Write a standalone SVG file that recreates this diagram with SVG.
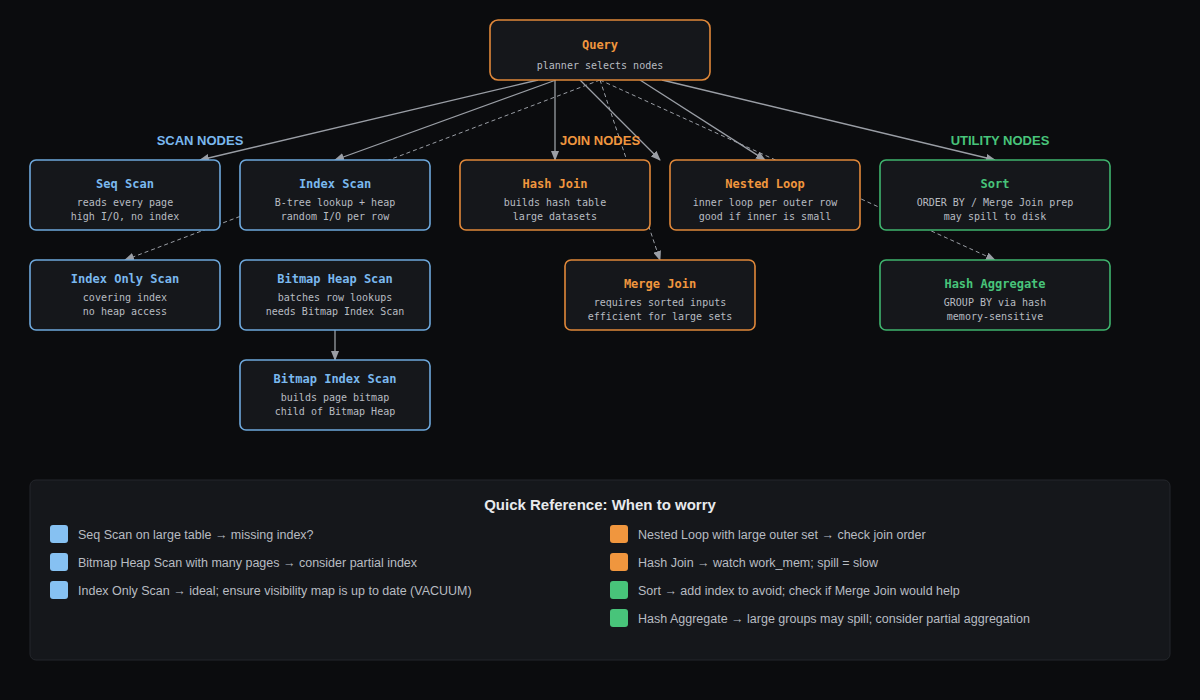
<svg xmlns="http://www.w3.org/2000/svg" width="1200" height="700" viewBox="0 0 1200 700">
<style>
.box{fill:#15171b;stroke-width:1.6}
.b{stroke:#6ea8dc}.o{stroke:#e0883a}.g{stroke:#3fb46e}
.t{font-family:"DejaVu Sans Mono",monospace;font-size:12px;font-weight:bold;text-anchor:middle}
.s{font-family:"DejaVu Sans Mono",monospace;font-size:10px;fill:#b8bcc2;text-anchor:middle}
.tb{fill:#7ab8ee}.to{fill:#f0963e}.tg{fill:#48c47a}
.sec{font-family:"Liberation Sans",Arial,sans-serif;font-size:13px;font-weight:bold;text-anchor:middle}
.c{stroke:#9a9ea5;stroke-width:1.3;fill:none}
.d{stroke-dasharray:4 3;stroke-width:1}
.lg{font-family:"Liberation Sans",Arial,sans-serif;font-size:12.5px;fill:#b8bcc2}
</style>
<defs><marker id="a" markerWidth="10" markerHeight="8" refX="9" refY="4" orient="auto" markerUnits="userSpaceOnUse"><path d="M0,0 L10,4 L0,8 z" fill="#9a9ea5"/></marker></defs>
<rect width="1200" height="700" fill="#0b0c0e"/>
<g id="connectors" marker-end="url(#a)">
<line class="c" x1="538" y1="80" x2="200" y2="160"/>
<line class="c" x1="556" y1="80" x2="335" y2="160"/>
<line class="c d" x1="600" y1="80" x2="125" y2="260"/>
<line class="c" x1="555" y1="80" x2="555" y2="160"/>
<line class="c d" x1="600" y1="80" x2="660" y2="260"/>
<line class="c" x1="580" y1="80" x2="660" y2="160"/>
<line class="c" x1="640" y1="80" x2="765" y2="160"/>
<line class="c d" x1="600" y1="80" x2="995" y2="260"/>
<line class="c" x1="662" y1="80" x2="995" y2="160"/>
<line class="c" x1="335" y1="330" x2="335" y2="360"/>
</g>
<text class="sec tb" x="200" y="145">SCAN NODES</text>
<text class="sec to" x="600" y="145">JOIN NODES</text>
<text class="sec tg" x="1000" y="145">UTILITY NODES</text>
<g id="query"><rect class="box o" x="490" y="20" width="220" height="60" rx="8" stroke-width="2"/><text class="t to" x="600" y="49" font-size="14">Query</text><text class="s" x="600" y="69" font-size="11">planner selects nodes</text></g>
<g id="seq"><rect class="box b" x="30" y="160" width="190" height="70" rx="6"/><text class="t tb" x="125" y="188">Seq Scan</text><text class="s" x="125" y="206">reads every page</text><text class="s" x="125" y="220">high I/O, no index</text></g>
<g id="idx"><rect class="box b" x="240" y="160" width="190" height="70" rx="6"/><text class="t tb" x="335" y="188">Index Scan</text><text class="s" x="335" y="206">B-tree lookup + heap</text><text class="s" x="335" y="220">random I/O per row</text></g>
<g id="hashjoin"><rect class="box o" x="460" y="160" width="190" height="70" rx="6"/><text class="t to" x="555" y="188">Hash Join</text><text class="s" x="555" y="206">builds hash table</text><text class="s" x="555" y="220">large datasets</text></g>
<g id="nested"><rect class="box o" x="670" y="160" width="190" height="70" rx="6"/><text class="t to" x="765" y="188">Nested Loop</text><text class="s" x="765" y="206">inner loop per outer row</text><text class="s" x="765" y="220">good if inner is small</text></g>
<g id="sort"><rect class="box g" x="880" y="160" width="230" height="70" rx="6"/><text class="t tg" x="995" y="188">Sort</text><text class="s" x="995" y="206">ORDER BY / Merge Join prep</text><text class="s" x="995" y="220">may spill to disk</text></g>
<g id="idxonly"><rect class="box b" x="30" y="260" width="190" height="70" rx="6"/><text class="t tb" x="125" y="283" font-size="11">Index Only Scan</text><text class="s" x="125" y="301">covering index</text><text class="s" x="125" y="315">no heap access</text></g>
<g id="bitmapheap"><rect class="box b" x="240" y="260" width="190" height="70" rx="6"/><text class="t tb" x="335" y="283" font-size="11">Bitmap Heap Scan</text><text class="s" x="335" y="301">batches row lookups</text><text class="s" x="335" y="315">needs Bitmap Index Scan</text></g>
<g id="merge"><rect class="box o" x="565" y="260" width="190" height="70" rx="6"/><text class="t to" x="660" y="288">Merge Join</text><text class="s" x="660" y="306">requires sorted inputs</text><text class="s" x="660" y="320">efficient for large sets</text></g>
<g id="hashagg"><rect class="box g" x="880" y="260" width="230" height="70" rx="6"/><text class="t tg" x="995" y="288">Hash Aggregate</text><text class="s" x="995" y="306">GROUP BY via hash</text><text class="s" x="995" y="320">memory-sensitive</text></g>
<g id="bitmapidx"><rect class="box b" x="240" y="360" width="190" height="70" rx="6"/><text class="t tb" x="335" y="383" font-size="11">Bitmap Index Scan</text><text class="s" x="335" y="401">builds page bitmap</text><text class="s" x="335" y="415">child of Bitmap Heap</text></g>
<g id="legend">
<rect x="30" y="480" width="1140" height="180" rx="6" fill="#15171b" stroke="#24272c"/>
<text x="600" y="510" font-family="Liberation Sans,Arial,sans-serif" font-size="15" font-weight="bold" fill="#e8eaed" text-anchor="middle">Quick Reference: When to worry</text>
<rect x="50" y="525" width="18" height="18" rx="3" fill="#86c1f2"/><text class="lg" x="78" y="539">Seq Scan on large table → missing index?</text>
<rect x="50" y="553" width="18" height="18" rx="3" fill="#86c1f2"/><text class="lg" x="78" y="567">Bitmap Heap Scan with many pages → consider partial index</text>
<rect x="50" y="581" width="18" height="18" rx="3" fill="#86c1f2"/><text class="lg" x="78" y="595">Index Only Scan → ideal; ensure visibility map is up to date (VACUUM)</text>
<rect x="610" y="525" width="18" height="18" rx="3" fill="#f0963e"/><text class="lg" x="638" y="539">Nested Loop with large outer set → check join order</text>
<rect x="610" y="553" width="18" height="18" rx="3" fill="#f0963e"/><text class="lg" x="638" y="567">Hash Join → watch work_mem; spill = slow</text>
<rect x="610" y="581" width="18" height="18" rx="3" fill="#48c47a"/><text class="lg" x="638" y="595">Sort → add index to avoid; check if Merge Join would help</text>
<rect x="610" y="609" width="18" height="18" rx="3" fill="#48c47a"/><text class="lg" x="638" y="623">Hash Aggregate → large groups may spill; consider partial aggregation</text>
</g>
</svg>
